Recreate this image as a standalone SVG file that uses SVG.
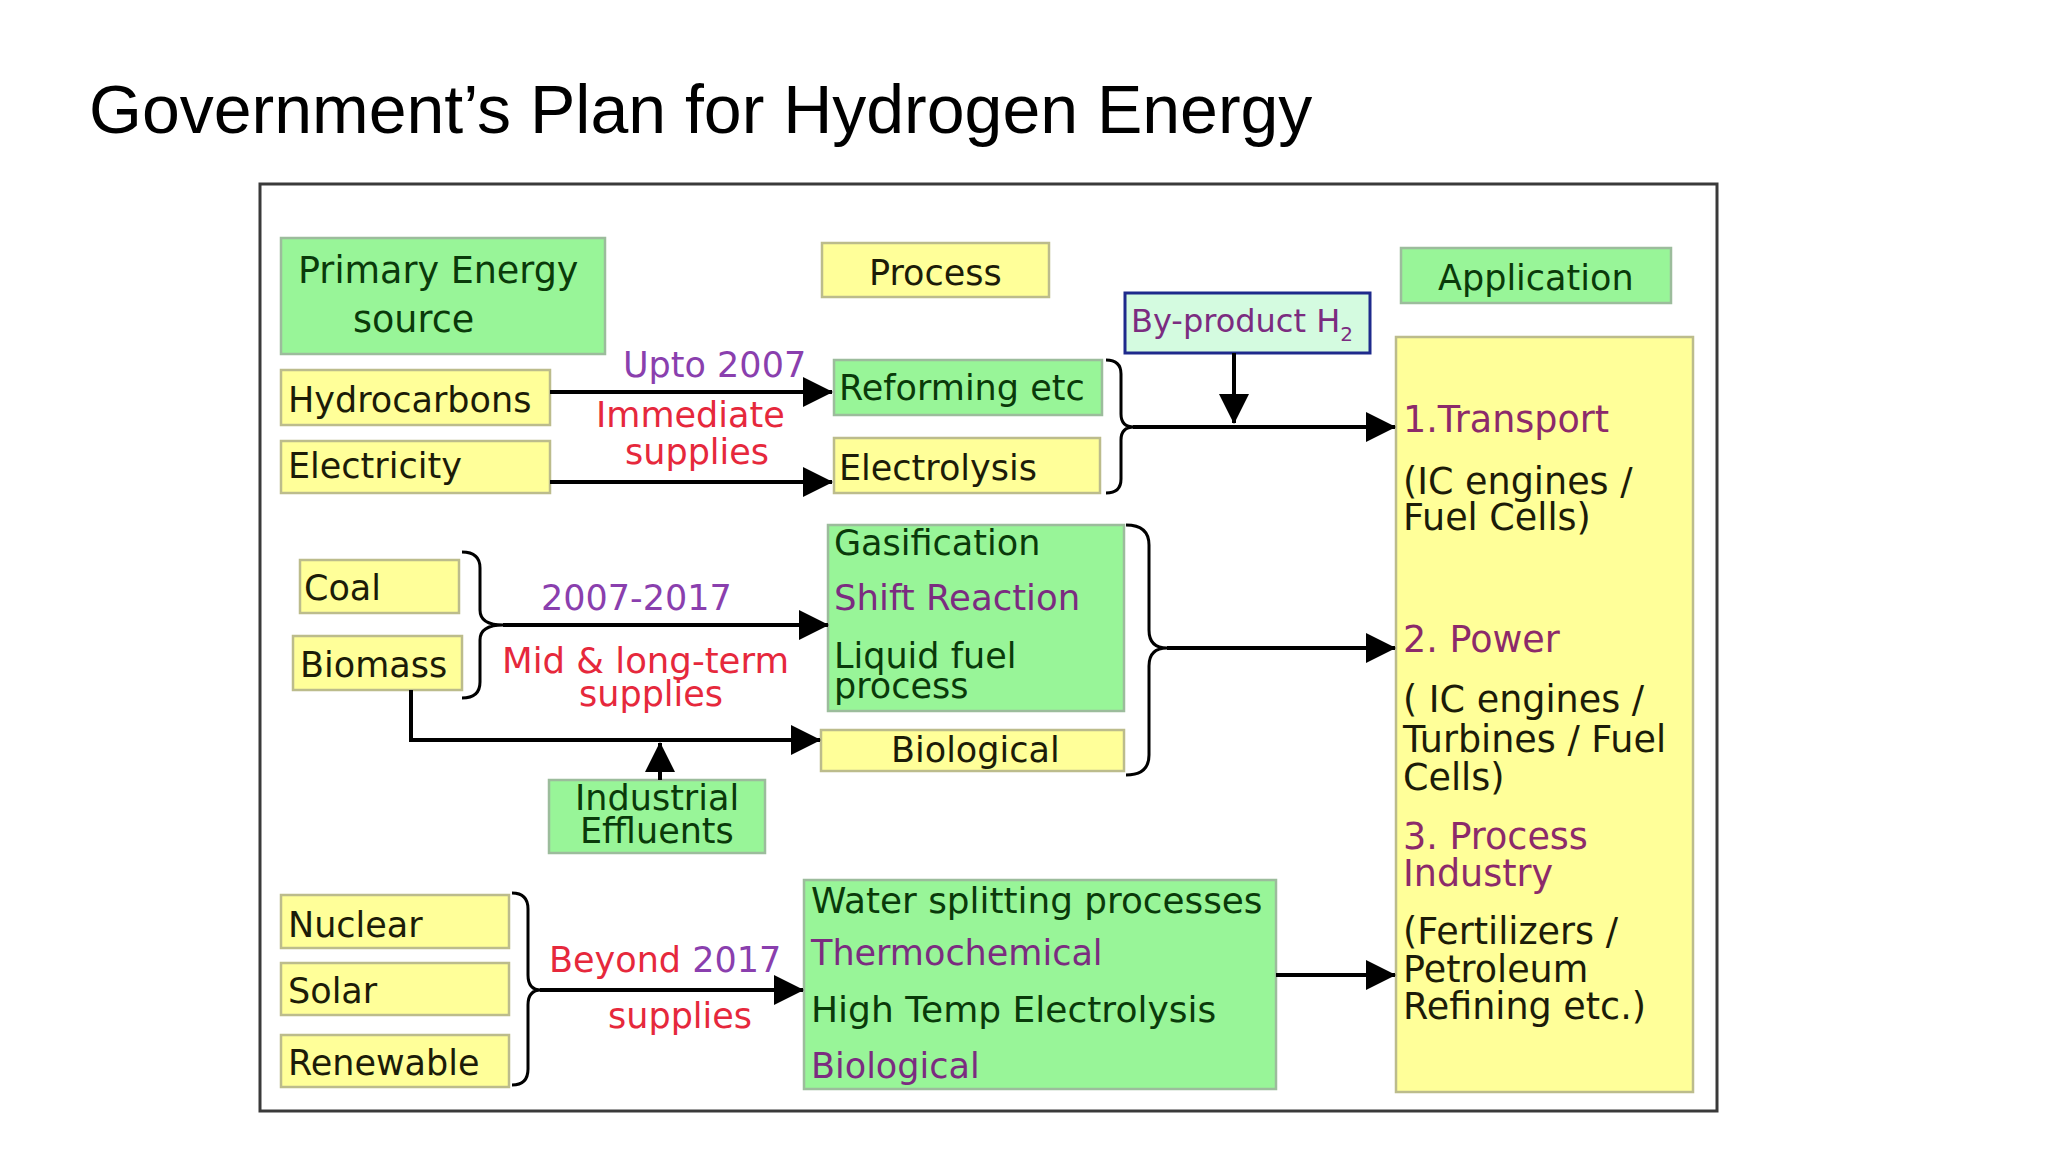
<svg xmlns="http://www.w3.org/2000/svg" width="2048" height="1152" viewBox="0 0 2048 1152">
<defs>
<style>
text{font-family:"DejaVu Sans","Liberation Sans",sans-serif;font-size:35px}
.title{font-family:"Liberation Sans",Arial,sans-serif;font-size:68px;fill:#000}
.g{fill:#98f598;stroke:#9cbc9c;stroke-width:2.5}
.y{fill:#ffff99;stroke:#bcbc8c;stroke-width:2.5}
.tg{fill:#0a3a0a}
.tk{fill:#1c1c08}
.tp{fill:#8a3fae}
.tr{fill:#e6283c}
.tm{fill:#8c2a6a}
.tv{fill:#7b2c80}
.app{font-size:36.5px}
.ln{fill:none;stroke:#000;stroke-width:4}
.br{fill:none;stroke:#000;stroke-width:3}
</style>
<marker id="ah" viewBox="0 0 30 30" refX="29" refY="15" markerWidth="30" markerHeight="30" markerUnits="userSpaceOnUse" orient="auto">
<path d="M0,0 L30,15 L0,30 z" fill="#000"/>
</marker>
</defs>
<rect width="2048" height="1152" fill="#fff"/>
<text class="title" x="89" y="133">Government’s Plan for Hydrogen Energy</text>
<rect id="frame" x="260" y="184" width="1457" height="927" fill="#fff" stroke="#3a3a3a" stroke-width="3"/>

<g id="primary"><rect class="g" x="281" y="238" width="324" height="116"/>
<text class="tg" x="298" y="283" style="font-size:36.5px">Primary Energy</text>
<text class="tg" x="353" y="332" style="font-size:36.5px">source</text></g>
<g id="process"><rect class="y" x="822" y="243" width="227" height="54"/>
<text class="tk" x="869" y="285">Process</text></g>
<g id="application"><rect class="g" x="1401" y="248" width="270" height="55"/>
<text class="tg" x="1438" y="290">Application</text></g>
<g id="byproduct"><rect x="1125" y="293" width="245" height="60" fill="#d4fbe0" stroke="#1e2a8c" stroke-width="3"/>
<text class="tv" x="1131" y="332" style="font-size:32px">By-product H<tspan style="font-size:20px" dy="9">2</tspan></text></g>

<g id="hydrocarbons"><rect class="y" x="281" y="370" width="269" height="55"/>
<text class="tk" x="288" y="412">Hydrocarbons</text></g>
<g id="electricity"><rect class="y" x="281" y="441" width="269" height="52"/>
<text class="tk" x="288" y="478">Electricity</text></g>
<g id="reforming"><rect class="g" x="834" y="360" width="268" height="55"/>
<text class="tg" x="839" y="400">Reforming etc</text></g>
<g id="electrolysis"><rect class="y" x="834" y="438" width="266" height="55"/>
<text class="tk" x="839" y="480">Electrolysis</text></g>

<g id="coal"><rect class="y" x="300" y="560" width="159" height="53"/>
<text class="tk" x="304" y="600">Coal</text></g>
<g id="biomass"><rect class="y" x="293" y="636" width="169" height="54"/>
<text class="tk" x="300" y="677">Biomass</text></g>
<g id="gasification"><rect class="g" x="828" y="525" width="296" height="186"/>
<text class="tg" x="834" y="555">Gasification</text>
<text class="tv" x="834" y="610" style="font-size:35.5px">Shift Reaction</text>
<text class="tg" x="834" y="668">Liquid fuel</text>
<text class="tg" x="834" y="698">process</text></g>
<g id="biological"><rect class="y" x="821" y="730" width="303" height="41"/>
<text class="tk" x="891" y="762">Biological</text></g>
<g id="industrial"><rect class="g" x="549" y="780" width="216" height="73"/>
<text class="tg" x="575" y="810">Industrial</text>
<text class="tg" x="580" y="843">Effluents</text></g>

<g id="nuclear"><rect class="y" x="281" y="895" width="228" height="53"/>
<text class="tk" x="288" y="937">Nuclear</text></g>
<g id="solar"><rect class="y" x="281" y="963" width="228" height="52"/>
<text class="tk" x="288" y="1003">Solar</text></g>
<g id="renewable"><rect class="y" x="281" y="1035" width="228" height="52"/>
<text class="tk" x="288" y="1075">Renewable</text></g>
<g id="water"><rect class="g" x="804" y="880" width="472" height="209"/>
<text class="tg" x="811" y="913" style="font-size:35.8px">Water splitting processes</text>
<text class="tv" x="811" y="965">Thermochemical</text>
<text class="tg" x="811" y="1022" style="font-size:36px">High Temp Electrolysis</text>
<text class="tv" x="811" y="1078">Biological</text></g>

<g id="applications"><rect class="y" x="1396" y="337" width="297" height="755"/>
<text class="tm app" x="1403" y="432">1.Transport</text>
<text class="tk app" x="1403" y="494">(IC engines /</text>
<text class="tk app" x="1403" y="530">Fuel Cells)</text>
<text class="tm app" x="1403" y="652">2. Power</text>
<text class="tk app" x="1403" y="712">( IC engines /</text>
<text class="tk app" x="1403" y="752">Turbines / Fuel</text>
<text class="tk app" x="1403" y="790">Cells)</text>
<text class="tm app" x="1403" y="849">3. Process</text>
<text class="tm app" x="1403" y="886">Industry</text>
<text class="tk app" x="1403" y="944">(Fertilizers /</text>
<text class="tk app" x="1403" y="982">Petroleum</text>
<text class="tk app" x="1403" y="1019">Refining etc.)</text></g>

<g id="connectors">
<path class="ln" d="M550,392 H832" marker-end="url(#ah)"/>
<path class="ln" d="M550,482 H832" marker-end="url(#ah)"/>
<path class="br" d="M1106,360 Q1121,360 1121,374 V414 Q1121,427 1134,427 Q1121,427 1121,440 V479 Q1121,493 1106,493"/>
<path class="ln" d="M1133,427 H1395" marker-end="url(#ah)"/>
<path class="ln" d="M1234,353 V423" marker-end="url(#ah)"/>
<path class="br" d="M462,552 Q480,552 480,568 V610 Q480,625 503,625 Q480,625 480,640 V682 Q480,698 462,698"/>
<path class="ln" d="M503,625 H828" marker-end="url(#ah)"/>
<path class="ln" d="M411,690 V740 H820" marker-end="url(#ah)"/>
<path class="ln" d="M660,780 V743" marker-end="url(#ah)"/>
<path class="br" d="M1126,525 Q1149,525 1149,545 V630 Q1149,648 1167,648 Q1149,648 1149,666 V755 Q1149,775 1126,775"/>
<path class="ln" d="M1167,648 H1395" marker-end="url(#ah)"/>
<path class="br" d="M512,893 Q528,893 528,909 V975 Q528,990 541,990 Q528,990 528,1005 V1069 Q528,1085 512,1085"/>
<path class="ln" d="M540,990 H803" marker-end="url(#ah)"/>
<path class="ln" d="M1276,975 H1395" marker-end="url(#ah)"/>
<text class="tp" x="623" y="377">Upto 2007</text>
<text class="tr" x="596" y="427">Immediate</text>
<text class="tr" x="625" y="464">supplies</text>
<text class="tp" x="541" y="610">2007-2017</text>
<text class="tr" x="502" y="673" style="font-size:35.5px">Mid &amp; long-term</text>
<text class="tr" x="579" y="706">supplies</text>
<text x="549" y="972"><tspan class="tr">Beyond </tspan><tspan class="tp">2017</tspan></text>
<text class="tr" x="608" y="1028">supplies</text>
</g>
</svg>
